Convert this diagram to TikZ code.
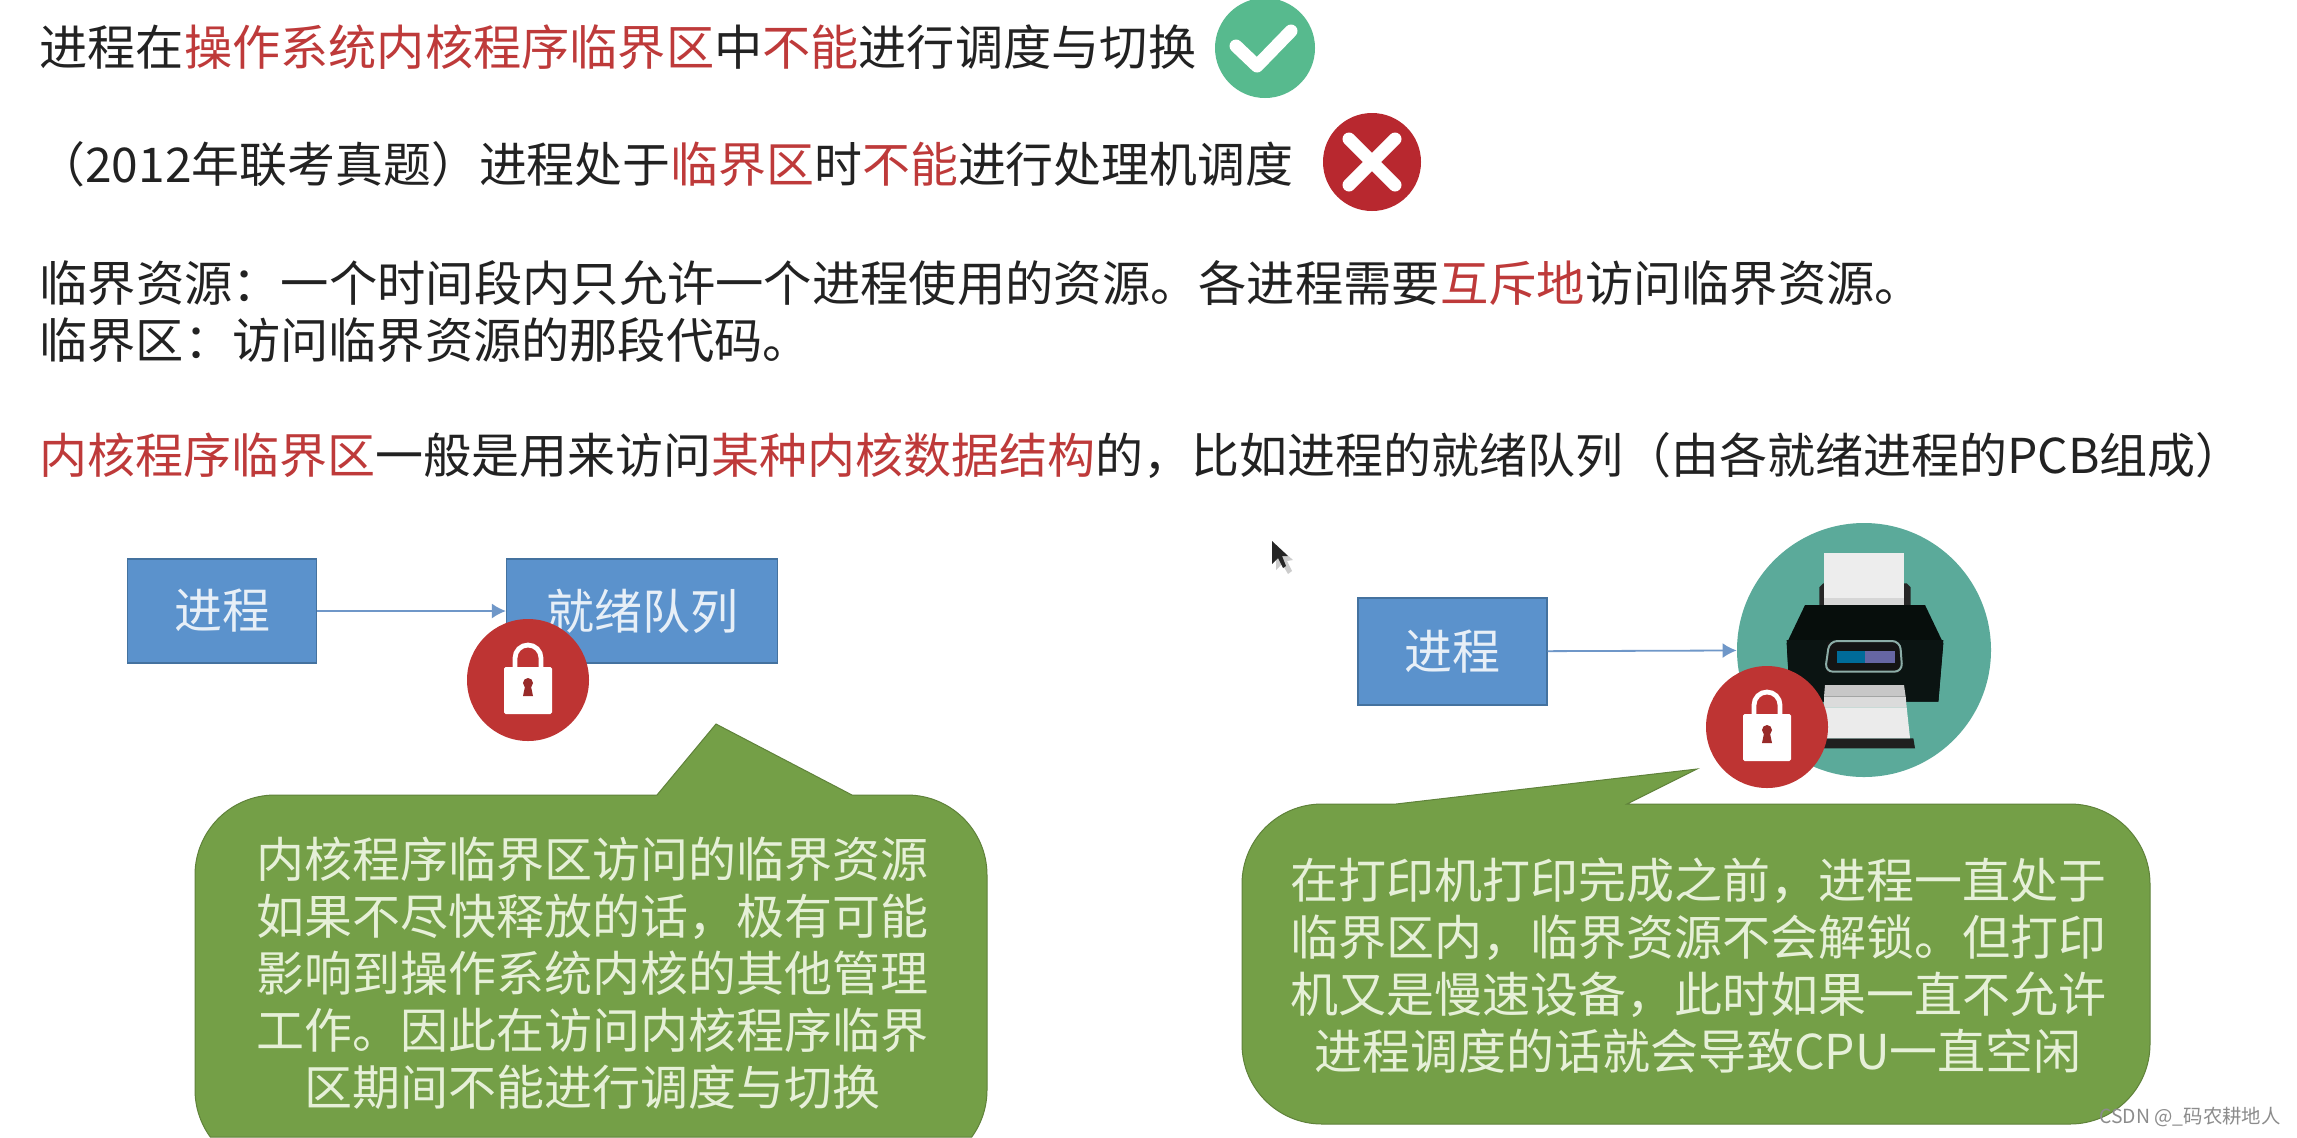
\documentclass[tikz,border=0pt]{standalone}
\usepackage{fontspec}
\setmainfont{Noto Sans CJK SC}
\usetikzlibrary{arrows.meta}
\definecolor{hl}{HTML}{BE3A3A}
\definecolor{tx}{HTML}{222222}
\definecolor{boxblue}{HTML}{5B92CC}
\definecolor{boxedge}{HTML}{44729F}
\definecolor{arrowblue}{HTML}{6F97C8}
\definecolor{bubble}{HTML}{749F47}
\definecolor{bubtxt}{HTML}{E6F0D8}
\definecolor{teal}{HTML}{5BAA9A}
\definecolor{lockred}{HTML}{BE3433}
\definecolor{okgreen}{HTML}{57BA8E}
\definecolor{nored}{HTML}{B8282F}
\newcommand{\hlt}[1]{\textcolor{hl}{#1}}
\tikzset{
  x=0.5pt,y=-0.5pt,
  line/.style={anchor=west,inner sep=0pt,font=\fontsize{24.1}{28}\selectfont,text=tx},
  bluebox/.style={draw=boxedge,line width=0.6pt,fill=boxblue,text=white!85!boxblue,inner sep=0pt,font=\fontsize{24}{28}\selectfont},
  flow/.style={draw=arrowblue,line width=0.9pt,-{Latex[length=7pt,width=7.5pt]}},
  speech/.style={fill=bubble,draw=bubble!82!black,line width=0.5pt},
  bubtext/.style={align=center,inner sep=0pt,text=bubtxt,font=\fontsize{24}{28.5}\selectfont},
  disc/.style={circle,inner sep=0pt,minimum size=#1},
  lockdisc/.style={circle,fill=lockred,inner sep=0pt,minimum size=61pt},
}
\newcommand{\lockicon}[1]{%
  \begin{scope}[shift={(#1)}]
    \draw[white,line width=2.4pt] (-13,-13) -- (-13,-22) arc[start angle=180,end angle=0,x radius=13,y radius=-13] -- (13,-13);
    \fill[white,rounded corners=0.8pt] (-24,-13) rectangle (24,34);
    \fill[lockred!80!black] (0,3) circle[radius=5];
    \fill[lockred!80!black] (-2.5,4) -- (2.5,4) -- (5,16) -- (-5,16) -- cycle;
  \end{scope}}
\begin{document}
\begin{tikzpicture}
\useasboundingbox (0,0) rectangle (2297,1137);
\fill[white] (0,0) rectangle (2297,1137);

% text lines
\node[line] (l1) at (39,47) {进程在\hlt{操作系统内核程序临界区}中\hlt{不能}进行调度与切换};
\node[line,font=\fontsize{23.95}{28}\selectfont] (l2) at (37,164) {（2012年联考真题）进程处于\hlt{临界区}时\hlt{不能}进行处理机调度};
\node[line,font=\fontsize{24.15}{28}\selectfont] (l3) at (39,283) {临界资源：一个时间段内只允许一个进程使用的资源。各进程需要\hlt{互斥地}访问临界资源。};
\node[line] (l4) at (39,340) {临界区：访问临界资源的那段代码。};
\node[line,font=\fontsize{24}{28}\selectfont] (l5) at (39,456) {\hlt{内核程序临界区}一般是用来访问\hlt{某种内核数据结构}的，比如进程的就绪队列（由各就绪进程的PCB组成）};

% status icons
\node[disc=50pt,fill=okgreen] (ok) at (1265,48) {};
\draw[white,line width=6.5pt,line cap=round,line join=round] (1236,46) -- (1257,66) -- (1291,31);
\node[disc=49pt,fill=nored] (no) at (1372,162) {};
\draw[white,line width=6.5pt,line cap=round] (1349,139) -- (1395,185) (1395,139) -- (1349,185);

% mouse pointer
\fill[black!20] (1276,545) -- (1276,570) -- (1282,564) -- (1288,574) -- (1292,571) -- (1287,561) -- (1293,560) -- cycle;
\fill[black!85] (1272,541) -- (1272,564) -- (1278,558) -- (1283,568) -- (1286,566) -- (1282,556) -- (1288,556) -- cycle;

% left diagram
\node[bluebox,minimum width=94.5pt,minimum height=52pt] (p1) at (222,611) {进程};
\node[bluebox,minimum width=135.5pt,minimum height=52pt] (q) at (642,611) {就绪队列};
\draw[flow] (p1) -- (q);
\node[lockdisc] (lock1) at (528,680) {};
\lockicon{528,680}

\path[speech] (195,875) arc[start angle=180,end angle=270,radius=80] -- (657,795) -- (716,724) -- (852,795) -- (907,795)
  arc[start angle=-90,end angle=0,radius=80] -- (987,1090) arc[start angle=0,end angle=36,radius=80] -- (210.3,1137) arc[start angle=144,end angle=180,radius=80] -- cycle;
\node[bubtext] (t1) at (592,973) {内核程序临界区访问的临界资源\\如果不尽快释放的话，极有可能\\影响到操作系统内核的其他管理\\工作。因此在访问内核程序临界\\区期间不能进行调度与切换};

% right diagram
\node[bluebox,minimum width=94.5pt,minimum height=53.5pt] (p2) at (1452.5,651.5) {进程};
\node[disc=127pt,fill=teal] (printer) at (1864,650) {};
\draw[flow] (p2) -- (printer);

\begin{scope}[shift={(1650,500)},x=0.16667pt,y=-0.16667pt]
  \fill[black!85] (508,325) -- (508,262) -- (520,250) -- (770,250) -- (782,262) -- (782,325) -- cycle;
  \fill[black!7] (522,160) rectangle (762,300);
  \fill[black!16] (522,295) rectangle (762,325);
  \fill[black!88] (520,715) -- (790,715) -- (795,745) -- (520,745) -- cycle;
  \fill[black!92!teal] (465,315) -- (825,315) -- (880,430) -- (865,605) -- (420,605) -- (410,430) -- cycle;
  \fill[black!88!teal] (410,420) -- (880,420) -- (865,605) -- (420,605) -- cycle;
  \fill[black!92] (530,425) rectangle (750,520);
  \draw[black!30!teal!60!white,line width=1pt,rounded corners=4pt] (538,423) -- (750,423) -- (757,515) -- (525,515) -- cycle;
  \fill[blue!30!cyan!60!black] (560,452) rectangle (645,490);
  \fill[blue!40!black!60] (645,452) rectangle (735,490);
  \fill[black!22] (525,555) -- (762,555) -- (767,590) -- (522,590) -- cycle;
  \fill[black!14] (522,590) -- (767,590) -- (770,622) -- (522,622) -- cycle;
  \fill[black!8] (522,622) -- (770,622) -- (780,715) -- (522,715) -- cycle;
\end{scope}

\node[lockdisc] (lock2) at (1767,727) {};
\lockicon{1767,727}

\path[speech] (1242,884) arc[start angle=180,end angle=270,radius=80] -- (1396,804) -- (1697,769) -- (1627,804) -- (2070,804)
  arc[start angle=-90,end angle=0,radius=80] -- (2150,1044) arc[start angle=0,end angle=90,radius=80] -- (1322,1124) arc[start angle=90,end angle=180,radius=80] -- cycle;
\node[bubtext] (t2) at (1698,966) {在打印机打印完成之前，进程一直处于\\临界区内，临界资源不会解锁。但打印\\机又是慢速设备，此时如果一直不允许\\进程调度的话就会导致CPU一直空闲};

% watermark
\node[anchor=east,inner sep=0pt,text=black!45,font=\fontsize{9.7}{11}\selectfont] (wm) at (2281,1117) {CSDN @\_码农耕地人};
\end{tikzpicture}
\end{document}
